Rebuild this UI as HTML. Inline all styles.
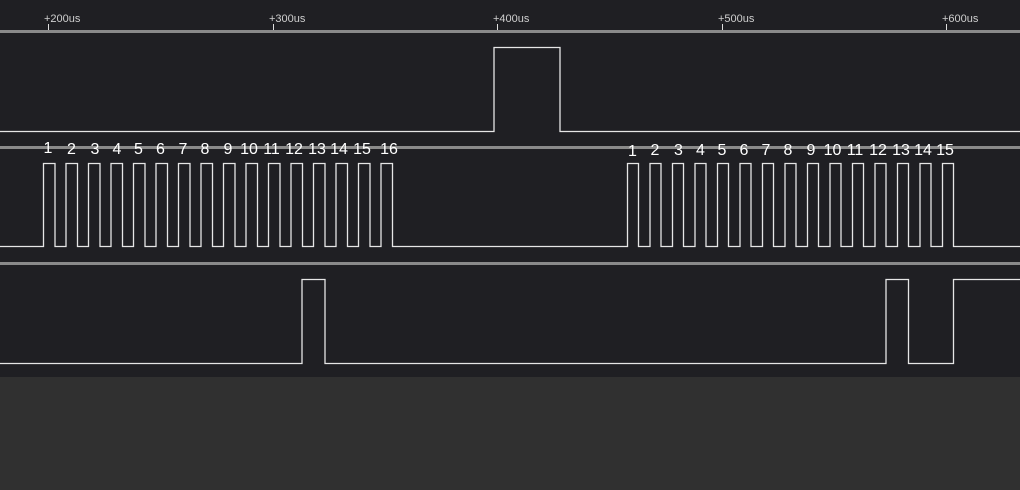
<!DOCTYPE html>
<html><head><meta charset="utf-8"><style>
html,body{margin:0;padding:0;background:#1f1f23;}
svg{display:block}
</style></head><body>
<svg width="1020" height="490" viewBox="0 0 1020 490" xmlns="http://www.w3.org/2000/svg">
<rect x="0" y="0" width="1020" height="490" fill="#1f1f23"/>
<rect x="0" y="377" width="1020" height="113" fill="#303030"/>
<!-- separators -->
<rect x="0" y="30" width="1020" height="3" fill="#8a8a8a"/>
<rect x="0" y="146" width="1020" height="3" fill="#8a8a8a"/>
<rect x="0" y="262" width="1020" height="3" fill="#8a8a8a"/>
<!-- ticks -->
<g stroke="#dddddd" stroke-width="1">
<line x1="48.5" y1="24" x2="48.5" y2="30"/>
<line x1="273.5" y1="24" x2="273.5" y2="30"/>
<line x1="497.5" y1="24" x2="497.5" y2="30"/>
<line x1="722.5" y1="24" x2="722.5" y2="30"/>
<line x1="946.5" y1="24" x2="946.5" y2="30"/>
</g>
<g font-family="Liberation Sans, sans-serif" font-size="11" fill="#cfcfcf">
<text x="44" y="22">+200us</text>
<text x="269" y="22">+300us</text>
<text x="493" y="22">+400us</text>
<text x="718" y="22">+500us</text>
<text x="942" y="22">+600us</text>
</g>
<g fill="none" stroke="#e6e6e6" stroke-width="1.3">
<path d="M0 131.5 H494 V47.5 H560 V131.5 H1020"/>
<path d="M0 246.5 H43.5 V163.5 H55 V246.5 H66 V163.5 H77.5 V246.5 H88.5 V163.5 H100 V246.5 H111 V163.5 H122.5 V246.5 H133.5 V163.5 H145 V246.5 H156 V163.5 H167.5 V246.5 H178.5 V163.5 H190 V246.5 H201 V163.5 H212.5 V246.5 H223.5 V163.5 H235 V246.5 H246 V163.5 H257.5 V246.5 H268.5 V163.5 H280 V246.5 H291 V163.5 H302.5 V246.5 H313.5 V163.5 H325 V246.5 H336 V163.5 H347.5 V246.5 H358.5 V163.5 H370 V246.5 H381 V163.5 H392.5 V246.5 H627.5 V163.5 H638.5 V246.5 H650 V163.5 H661 V246.5 H672.5 V163.5 H683.5 V246.5 H695 V163.5 H706 V246.5 H717.5 V163.5 H728.5 V246.5 H740 V163.5 H751 V246.5 H762.5 V163.5 H773.5 V246.5 H785 V163.5 H796 V246.5 H807.5 V163.5 H818.5 V246.5 H830 V163.5 H841 V246.5 H852.5 V163.5 H863.5 V246.5 H875 V163.5 H886 V246.5 H897.5 V163.5 H908.5 V246.5 H920 V163.5 H931 V246.5 H942.5 V163.5 H953.5 V246.5 H1020"/>
<path d="M0 363.5 H302 V279.5 H325 V363.5 H886 V279.5 H908.5 V363.5 H953.5 V279.5 H1020"/>
</g>
<g font-family="Liberation Sans, sans-serif" font-size="16" fill="#ffffff" text-anchor="middle">
<text x="48" y="153">1</text><text x="71.5" y="154">2</text><text x="95" y="154">3</text><text x="117" y="154">4</text><text x="138.5" y="154">5</text><text x="160.5" y="154">6</text><text x="183" y="154">7</text><text x="205" y="154">8</text><text x="228" y="154">9</text><text x="249" y="154">10</text><text x="271.5" y="154">11</text><text x="294" y="154">12</text><text x="317" y="154">13</text><text x="339" y="154">14</text><text x="362" y="154">15</text><text x="389" y="154">16</text>
<text x="632.5" y="156">1</text><text x="655" y="155">2</text><text x="678.5" y="155">3</text><text x="700.5" y="155">4</text><text x="722" y="155">5</text><text x="744" y="155">6</text><text x="766" y="155">7</text><text x="788" y="155">8</text><text x="811" y="155">9</text><text x="832.5" y="155">10</text><text x="855" y="155">11</text><text x="878" y="155">12</text><text x="901" y="155">13</text><text x="923" y="155">14</text><text x="945" y="155">15</text>
</g>
</svg>
</body></html>
